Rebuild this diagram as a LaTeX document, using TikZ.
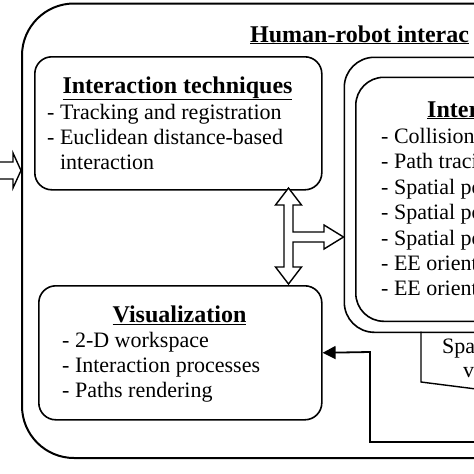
\documentclass[tikz,border=0pt]{standalone}
\usepackage{fontspec}
\setmainfont{Liberation Serif}
\usepackage{tikz}
\usetikzlibrary{arrows.meta}
\newcommand{\itemsize}{\fontsize{22}{25}\selectfont}
\newcommand{\headsize}{\fontsize{24}{28}\selectfont\bfseries}
\tikzset{>={Triangle[length=13pt,width=13pt]}}
\tikzset{box/.style={draw, line width=1.6pt, rounded corners=17pt, anchor=north west, inner sep=0pt},
	listitem/.style={anchor=base west, inner sep=0pt, font=\itemsize},
	heading/.style={anchor=base, inner sep=0pt, font=\headsize},
	hollow/.style={draw, line width=1.4pt, fill=white, line join=miter}}

\begin{document}
\begin{tikzpicture}[x=1pt,y=1pt]
		\useasboundingbox (0,-474) rectangle (474,0);
		\clip (0,-474) rectangle (474,0);

		% outer frame
		\node[box, line width=2pt, rounded corners=52pt, minimum width=560pt, minimum height=454.5pt] (frame) at (21,-2.5) {};
		\node[heading, anchor=base west] (hrititle) at (250,-42) {\underline{Human-robot interac}};

		% input arrow
		\coordinate (inlet) at (21,-170.5);
		\draw[hollow] (inlet) -- ++(-8,17.5) -- ++(0,-9) -- ++(-20,0) -- ++(0,-17) -- ++(20,0) -- ++(0,-9) -- cycle;

		% interaction techniques
		\node[box, minimum width=287pt, minimum height=133pt] (tech) at (34,-56) {};
		\node[heading] (techtitle) at (177.5,-93) {\underline{Interaction techniques}};
		\node[listitem] (tech1) at (47,-119) {- Tracking and registration};
		\node[listitem] (tech2) at (47,-144) {- Euclidean distance-based};
		\node[listitem] (tech3) at (47,-169) {\phantom{- }interaction};

		% visualization
		\node[box, minimum width=283pt, minimum height=134pt] (vis) at (38,-285) {};
		\node[heading] (vistitle) at (179.5,-322) {\underline{Visualization}};
		\node[listitem] (vis1) at (62,-347) {- 2-D workspace};
		\node[listitem] (vis2) at (62,-372) {- Interaction processes};
		\node[listitem] (vis3) at (62,-397) {- Paths rendering};

		% interface block on the right
		\node[box, rounded corners=30pt, minimum width=200pt, minimum height=275pt] (ifaceout) at (343.5,-56.5) {};
		\node[box, rounded corners=28pt, minimum width=200pt, minimum height=244pt] (iface) at (355,-76.5) {};
		\node[heading, anchor=base west] (ifacetitle) at (427,-117) {\underline{Inter}};
		\node[listitem] (iface1) at (381,-143) {- Collision};
		\node[listitem] (iface2) at (381,-168.5) {- Path traci};
		\node[listitem] (iface3) at (381,-194) {- Spatial po};
		\node[listitem] (iface4) at (381,-219.5) {- Spatial po};
		\node[listitem] (iface5) at (381,-245) {- Spatial po};
		\node[listitem] (iface6) at (381,-270) {- EE orient};
		\node[listitem] (iface7) at (381,-295) {- EE orient};

		% block hanging under the interface
		\draw[line width=1.4pt] (421,-331.5) -- (421,-382) -- (480,-389.5);
		\node[listitem] (spa1) at (442,-353) {Spa};
		\node[listitem] (spa2) at (463,-377) {v};

		% double arrow with branch
		\draw[hollow] (288.5,-188) -- (301.5,-205) -- (293,-205) -- (293,-232) -- (324,-232) -- (324,-225)
			-- (ifaceout.west |- 0,-237) -- (324,-249) -- (324,-242) -- (293,-242) -- (293,-267) -- (301.5,-267)
			-- (288.5,-284) -- (275.5,-267) -- (284,-267) -- (284,-205) -- (275.5,-205) -- cycle;

		% feedback to visualization
		\coordinate (feed) at (480,-442);
		\coordinate (bend) at (370,-352);
		\draw[->, line width=1.8pt] (feed) -| (bend) -- (vis.east);

	\end{tikzpicture}
\end{document}
